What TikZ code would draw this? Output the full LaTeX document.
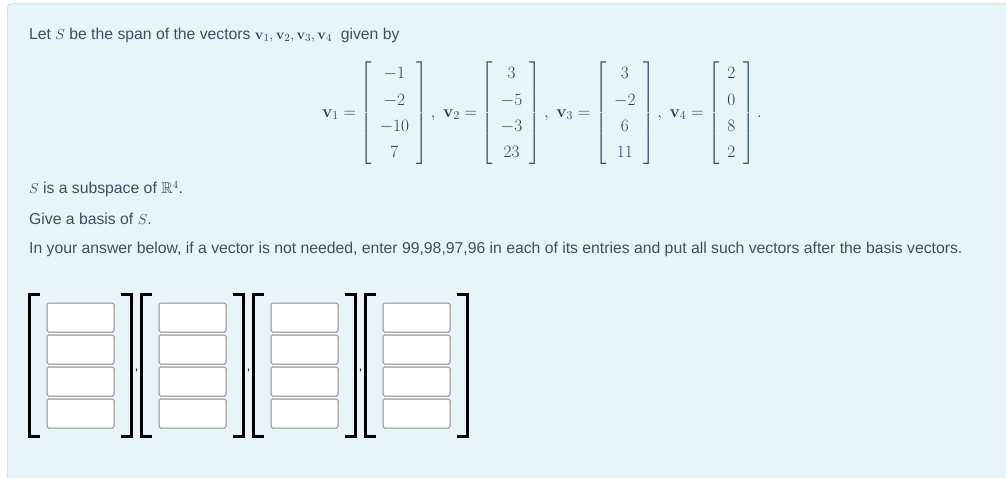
\documentclass[tikz,border=0pt]{standalone}
\usepackage{amsmath,amssymb}
\usepackage[no-math]{fontspec}
\setmainfont{Liberation Sans}
\definecolor{bgc}{HTML}{E8F5F8}
\definecolor{bdc}{HTML}{CFE3EA}
\definecolor{txt}{HTML}{3E4E5C}
\definecolor{mth}{HTML}{22405A}
\newcommand{\pd}[1]{\;\,#1\;\,}
\begin{document}
\begin{tikzpicture}[x=1pt,y=-1pt,
  txtn/.style={anchor=west,inner sep=0pt,text=txt,font=\fontsize{15.75}{18}\selectfont},
  ansbox/.style={draw=gray!90,fill=white,rounded corners=1.5pt,line width=1pt,minimum width=67pt,minimum height=29pt,inner sep=0pt},
  brk/.style={line width=2.6pt,black}]
\useasboundingbox (0,0) rectangle (1006,477);
\fill[white] (0,0) rectangle (1006,477);
\draw[bdc,fill=bgc,line width=1pt,rounded corners=4pt] (7.5,3.5) rectangle (1012,482);
\node[txtn] (l1) at (29,35) {Let $\color{mth}S$ be the span of the vectors $\color{mth}\mathbf v_1,\mathbf v_2,\mathbf v_3,\mathbf v_4$\ \ given by};
\node[text=mth,inner sep=0pt,font=\fontsize{17}{21}\selectfont] (vec) at (542,113) {%
 \renewcommand{\arraystretch}{1.25}%
 $\mathbf v_1=\begin{bmatrix}\pd{-1}\\\pd{-2}\\\pd{-10}\\\pd{7}\end{bmatrix},\ 
  \mathbf v_2=\begin{bmatrix}\pd{3}\\\pd{-5}\\\pd{-3}\\\pd{23}\end{bmatrix},\ 
  \mathbf v_3=\begin{bmatrix}\pd{3}\\\pd{-2}\\\pd{6}\\\pd{11}\end{bmatrix},\ 
  \mathbf v_4=\begin{bmatrix}\pd{2}\\\pd{0}\\\pd{8}\\\pd{2}\end{bmatrix}.$};
\node[txtn] (l2) at (29,189) {$\color{mth}S$ is a subspace of $\color{mth}\mathbb R^4$.};
\node[txtn] (l3) at (29,219) {Give a basis of $\color{mth}S$.};
\node[txtn] (l4) at (29,249) {In your answer below, if a vector is not needed, enter 99,98,97,96 in each of its entries and put all such vectors after the basis vectors.};
\foreach \i in {0,1,2,3}{
  \pgfmathsetmacro{\ox}{112*\i}
  \begin{scope}[xshift=\ox]
  \draw[brk] (40,294.5) -- (29.5,294.5) -- (29.5,436.5) -- (40,436.5);
  \draw[brk] (121,294.5) -- (131.5,294.5) -- (131.5,436.5) -- (121,436.5);
  \foreach \r in {0,1,2,3}{
    \node[ansbox] (b\i\r) at (80.5,317.5+32*\r) {};
  }
  \end{scope}
}
\foreach \i in {0,1,2}{
  \node[inner sep=0pt,font=\fontsize{12}{12}\selectfont] (c\i) at (136.5+112*\i,371) {,};
}
\end{tikzpicture}
\end{document}
